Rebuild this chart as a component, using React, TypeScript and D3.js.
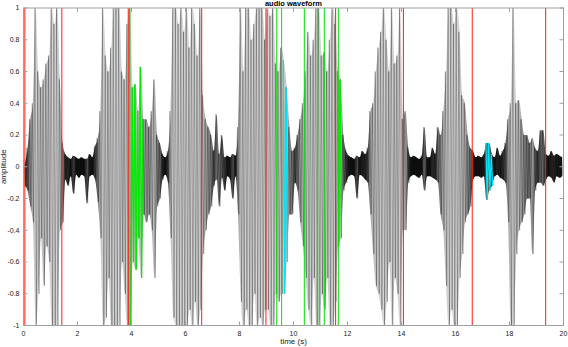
import React, { useRef, useEffect } from 'react';
import * as d3 from 'd3';

// peak envelope of the signal, one value per 0.1 s bin
const waveHi = [
  0.02, 0.12, 0.3, 0.4, 1.0, 0.6, 0.5, 0.55, 0.65, 0.7,
  1.0, 0.9, 1.0, 0.55, 0.15, 0.08, 0.06, 0.05, 0.07, 0.06,
  0.05, 0.06, 0.05, 0.05, 0.08, 0.06, 0.13, 0.18, 0.35, 1.0,
  0.7, 0.6, 0.75, 1.0, 1.0, 1.0, 0.6, 0.55, 0.9, 1.0,
  0.5, 0.52, 0.35, 0.63, 0.3, 0.3, 0.25, 0.35, 0.55, 0.2,
  0.15, 0.08, 0.06, 0.1, 0.35, 1.0, 1.0, 0.9, 1.0, 0.85,
  1.0, 0.75, 1.0, 0.9, 0.7, 1.0, 0.45, 0.3, 0.25, 0.2,
  0.1, 0.33, 0.08, 0.2, 0.06, 0.07, 0.06, 0.08, 0.07, 0.25,
  1.0, 0.6, 1.0, 1.0, 0.8, 0.9, 1.0, 1.0, 1.0, 0.8,
  1.0, 0.95, 1.0, 0.65, 0.6, 0.75, 0.67, 0.5, 0.25, 0.1,
  0.12, 0.2, 0.3, 0.4, 0.6, 0.85, 0.7, 0.8, 1.0, 1.0,
  0.7, 0.72, 0.6, 0.8, 1.0, 0.9, 0.6, 0.55, 0.2, 0.1,
  0.07, 0.06, 0.05, 0.07, 0.06, 0.1, 0.08, 0.12, 0.35, 0.4,
  0.6, 0.75, 0.85, 1.0, 0.8, 0.6, 1.0, 0.65, 0.7, 1.0,
  0.3, 0.35, 0.12, 0.06, 0.07, 0.06, 0.05, 0.07, 0.25, 0.06,
  0.06, 0.12, 0.08, 0.25, 0.2, 0.35, 0.6, 1.0, 1.0, 0.9,
  1.0, 0.85, 0.45, 0.4, 0.2, 0.12, 0.1, 0.06, 0.07, 0.06,
  0.08, 0.15, 0.15, 0.08, 0.06, 0.12, 0.07, 0.1, 0.15, 0.3,
  0.4, 1.0, 0.4, 0.42, 0.3, 0.2, 0.2, 0.15, 0.18, 0.12,
  0.1, 0.23, 0.23, 0.08, 0.07, 0.1, 0.07, 0.08, 0.07, 0.06
];

const waveLo = [
  -0.12, -0.15, -0.25, -0.35, -1.0, -0.8, -0.45, -0.75, -0.5, -0.6,
  -1.0, -1.0, -1.0, -0.4, -0.35, -0.08, -0.12, -0.06, -0.17, -0.05,
  -0.07, -0.05, -0.06, -0.23, -0.06, -0.05, -0.08, -0.22, -0.45, -1.0,
  -0.95, -0.7, -1.0, -1.0, -1.0, -1.0, -0.6, -0.8, -1.0, -1.0,
  -0.6, -0.65, -0.45, -0.7, -0.3, -0.35, -0.3, -0.4, -0.7, -0.25,
  -0.2, -0.08, -0.05, -0.1, -0.45, -0.95, -1.0, -1.0, -1.0, -1.0,
  -1.0, -0.9, -1.0, -0.85, -1.0, -0.9, -0.55, -0.4, -0.3, -0.25,
  -0.12, -0.08, -0.25, -0.07, -0.15, -0.06, -0.08, -0.2, -0.06, -0.3,
  -0.85, -1.0, -0.9, -1.0, -1.0, -0.8, -1.0, -0.95, -1.0, -0.9,
  -0.9, -1.0, -1.0, -0.8, -0.85, -0.8, -0.8, -0.6, -0.3, -0.3,
  -0.1, -0.15, -0.35, -0.5, -0.7, -0.9, -1.0, -0.7, -1.0, -1.0,
  -0.8, -0.9, -0.7, -1.0, -1.0, -0.85, -0.5, -0.45, -0.15, -0.1,
  -0.06, -0.05, -0.06, -0.2, -0.05, -0.06, -0.08, -0.1, -0.3, -0.55,
  -0.75, -0.8, -0.9, -1.0, -0.85, -0.6, -1.0, -0.7, -0.8, -1.0,
  -0.4, -0.4, -0.1, -0.06, -0.05, -0.06, -0.07, -0.05, -0.15, -0.06,
  -0.06, -0.07, -0.08, -0.1, -0.3, -0.4, -0.75, -1.0, -0.9, -1.0,
  -1.0, -0.7, -0.55, -0.35, -0.3, -0.25, -0.08, -0.06, -0.06, -0.07,
  -0.06, -0.21, -0.15, -0.12, -0.06, -0.05, -0.07, -0.08, -0.1, -0.35,
  -1.0, -1.0, -0.55, -0.4, -0.35, -0.3, -0.2, -0.2, -0.55, -0.15,
  -0.1, -0.1, -0.12, -0.08, -0.06, -0.07, -0.1, -0.06, -0.07, -0.06
];
const binSize = 0.1;

// event markers (s)
const redMarks = [0.05, 1.42, 3.88, 6.6, 8.98, 11.56, 14.07, 16.62, 19.34];
const greenMarks = [3.94, 9.38, 9.56, 10.4, 10.9, 11.14, 11.66];
// highlighted stretches of the waveform (s)
const greenSpans = [[3.97, 4.45], [11.6, 11.8]];
const cyanSpans = [[9.6, 9.8], [17.1, 17.4]];

const xTicks = [0, 2, 4, 6, 8, 10, 12, 14, 16, 18, 20];
const yTicks = [-1, -0.8, -0.6, -0.4, -0.2, 0, 0.2, 0.4, 0.6, 0.8, 1];

export default function App() {
  const svgRef = useRef(null);
  const width = 568;
  const height = 347;

  useEffect(() => {
    const svg = d3.select(svgRef.current);
    svg.selectAll('*').remove();

    const x = d3.scaleLinear().domain([0, 20]).range([23.5, 563.5]);
    const y = d3.scaleLinear().domain([-1, 1]).range([325.5, 8]);
    const font = 'Liberation Sans, Arial, sans-serif';

    const bins = waveHi.map((hi, i) => ({ t: (i + 0.5) * binSize, hi, lo: waveLo[i] }));

    const defs = svg.append('defs');
    defs.append('clipPath').attr('id', 'plotclip')
      .append('rect')
      .attr('x', x(0)).attr('y', y(1))
      .attr('width', x(20) - x(0)).attr('height', y(-1) - y(1));

    // a narrow swing packs the trace tight (dark), a wide one spreads it (light)
    const shade = d3.scaleLinear()
      .domain([0.12, 0.3, 0.8, 2])
      .range(['#111111', '#606060', '#bababa', '#d8d8d8'])
      .clamp(true);
    const grad = defs.append('linearGradient')
      .attr('id', 'dens')
      .attr('gradientUnits', 'userSpaceOnUse')
      .attr('x1', x(0)).attr('x2', x(20))
      .attr('y1', 0).attr('y2', 0);
    bins.forEach(b => grad.append('stop')
      .attr('offset', b.t / 20)
      .attr('stop-color', shade(b.hi - b.lo)));

    // zigzag through the max / min of each bin
    const pts = [];
    waveHi.forEach((hi, i) => {
      const t = i * binSize;
      pts.push([t + binSize * 0.25, hi]);
      pts.push([t + binSize * 0.75, waveLo[i]]);
    });

    const line = d3.line().x(d => x(d[0])).y(d => y(d[1]));
    const area = d3.area()
      .x(d => x(d.t))
      .y0(d => y(d.lo))
      .y1(d => y(d.hi))
      .curve(d3.curveMonotoneX);
    const g = svg.append('g').attr('clip-path', 'url(#plotclip)');

    // min/max envelope, then the trace on top
    g.append('path')
      .datum(bins)
      .attr('fill', 'url(#dens)')
      .attr('stroke', 'none')
      .attr('d', area);

    g.append('path')
      .datum(pts)
      .attr('fill', 'none')
      .attr('stroke', '#000')
      .attr('stroke-width', 0.45)
      .attr('stroke-opacity', 0.6)
      .attr('d', line);

    const drawSpans = (spans, color) => {
      spans.forEach(([a, b]) => {
        const seg = pts.filter(p => p[0] >= a && p[0] <= b);
        g.append('path')
          .datum(seg)
          .attr('fill', 'none')
          .attr('stroke', color)
          .attr('stroke-width', 1.2)
          .attr('d', line);
      });
    };
    drawSpans(greenSpans, '#00ee00');
    drawSpans(cyanSpans, '#00e5ff');

    const drawMarks = (marks, color) => {
      g.selectAll(null)
        .data(marks)
        .enter().append('line')
        .attr('x1', d => x(d)).attr('x2', d => x(d))
        .attr('y1', y(1)).attr('y2', y(-1))
        .attr('stroke', color)
        .attr('stroke-width', 1);
    };
    drawMarks(redMarks, '#ff1a1a');
    drawMarks(greenMarks, '#00e000');

    // frame
    const axisColor = '#a0a0a0';
    svg.append('rect')
      .attr('x', x(0)).attr('y', y(1))
      .attr('width', x(20) - x(0)).attr('height', y(-1) - y(1))
      .attr('fill', 'none')
      .attr('stroke', axisColor)
      .attr('stroke-width', 1);

    // ticks (pointing inwards, on all sides)
    const tl = 4;
    yTicks.forEach(v => {
      svg.append('line').attr('x1', x(0)).attr('x2', x(0) + tl)
        .attr('y1', y(v)).attr('y2', y(v)).attr('stroke', axisColor);
      svg.append('line').attr('x1', x(20)).attr('x2', x(20) - tl)
        .attr('y1', y(v)).attr('y2', y(v)).attr('stroke', axisColor);
    });
    xTicks.forEach(v => {
      svg.append('line').attr('x1', x(v)).attr('x2', x(v))
        .attr('y1', y(-1)).attr('y2', y(-1) - tl).attr('stroke', axisColor);
      svg.append('line').attr('x1', x(v)).attr('x2', x(v))
        .attr('y1', y(1)).attr('y2', y(1) + tl).attr('stroke', axisColor);
    });

    const fmt = v => String(+v.toFixed(1));
    svg.append('g').selectAll('text')
      .data(yTicks)
      .enter().append('text')
      .attr('x', x(0) - 4)
      .attr('y', d => y(d))
      .attr('dy', '0.35em')
      .attr('text-anchor', 'end')
      .attr('font-family', font)
      .attr('font-size', 7)
      .attr('fill', '#222')
      .text(fmt);

    svg.append('g').selectAll('text')
      .data(xTicks)
      .enter().append('text')
      .attr('x', d => x(d))
      .attr('y', y(-1) + 10)
      .attr('text-anchor', 'middle')
      .attr('font-family', font)
      .attr('font-size', 7)
      .attr('fill', '#222')
      .text(d => String(d));

    svg.append('text')
      .attr('x', (x(0) + x(20)) / 2)
      .attr('y', 6)
      .attr('text-anchor', 'middle')
      .attr('font-family', font)
      .attr('font-size', 7.5)
      .attr('font-weight', 'bold')
      .attr('fill', '#000')
      .text('audio waveform');

    svg.append('text')
      .attr('x', (x(0) + x(20)) / 2)
      .attr('y', 344)
      .attr('text-anchor', 'middle')
      .attr('font-family', font)
      .attr('font-size', 8)
      .attr('fill', '#222')
      .text('time (s)');

    svg.append('text')
      .attr('transform', `translate(6,${y(0)}) rotate(-90)`)
      .attr('text-anchor', 'middle')
      .attr('font-family', font)
      .attr('font-size', 8)
      .attr('fill', '#222')
      .text('amplitude');
  }, []);

  return (
    <svg
      ref={svgRef}
      width={width}
      height={height}
      style={{ position: 'absolute', left: 0, top: 0, background: '#fff' }}
    />
  );
}
